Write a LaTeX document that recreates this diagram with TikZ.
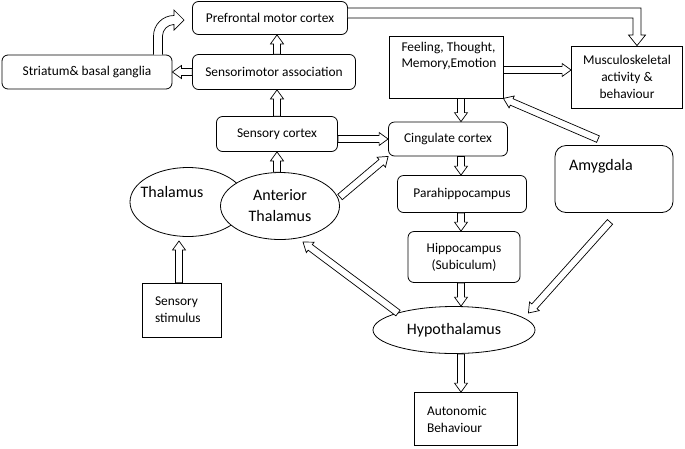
\documentclass[tikz,border=0pt]{standalone}
\usepackage{fontspec}
\setmainfont{Carlito}
\usetikzlibrary{calc,shapes.geometric}
\tikzset{
  rbox/.style={draw, thick, rounded corners=6pt, align=center, inner sep=0pt, font=\fontsize{13.4}{17}\selectfont},
  sbox/.style={draw, thick, align=left, inner sep=0pt, font=\fontsize{13.4}{17}\selectfont},
  oval/.style={draw, thick, ellipse, fill=white, align=center, inner sep=0pt, font=\fontsize{16}{21}\selectfont},
  % hollow block arrow: half shaft, half head, head length
  blk/.style n args={3}{draw, fill=white, line width=0.7pt, line join=miter, to path={
    ($(\tikztostart)!#1!90:(\tikztotarget)$)
    -- ($(\tikztotarget)!#3!(\tikztostart)!#1!-90:(\tikztostart)$)
    -- ($(\tikztotarget)!#3!(\tikztostart)!#2!-90:(\tikztostart)$)
    -- (\tikztotarget)
    -- ($(\tikztotarget)!#3!(\tikztostart)!#2!90:(\tikztostart)$)
    -- ($(\tikztotarget)!#3!(\tikztostart)!#1!90:(\tikztostart)$)
    -- ($(\tikztostart)!#1!-90:(\tikztotarget)$) -- cycle}},
  arr/.style={blk={3.5pt}{6.5pt}{9pt}},
}
\begin{document}
\begin{tikzpicture}[x=1pt, y=-1pt]
\useasboundingbox (0,0) rectangle (685,448);
% boxes
\node[rbox, minimum width=155, minimum height=33] (pfc) at (270,18) {Prefrontal motor cortex};
\node[rbox, minimum width=170, minimum height=34] (str) at (87,72) {Striatum\& basal ganglia};
\node[rbox, minimum width=163, minimum height=35] (smot) at (274,72) {Sensorimotor association};
\node[rbox, minimum width=121, minimum height=35] (sens) at (277,134) {Sensory cortex};
\node[sbox, minimum width=114, minimum height=62] (feel) at (446,67) {};
\node[align=left, anchor=north, inner sep=0pt, font=\fontsize{13.4}{16}\selectfont] (feeltxt) at ($(feel.north)+(3,6)$) {Feeling, Thought,\\Memory,Emotion};
\node[sbox, align=center, minimum width=111, minimum height=62] (musc) at (627,77) {Musculoskeletal\\activity \&\\behaviour};
\node[rbox, minimum width=119, minimum height=34] (cing) at (448,139) {Cingulate cortex};
\node[rbox, minimum width=129, minimum height=37] (para) at (462,194) {Parahippocampus};
\node[rbox, minimum width=112, minimum height=51] (hippo) at (464,257) {Hippocampus\\(Subiculum)};
\node[rbox, rounded corners=11pt, minimum width=118, minimum height=67] (amyg) at (614,179) {};
\node[anchor=west, inner sep=0pt, font=\fontsize{16}{18}\selectfont] (amygtxt) at (569,166) {Amygdala};
\node[sbox, text width=54, minimum width=79, minimum height=54] (stim) at (182,310) {Sensory\\stimulus};
\node[sbox, text width=78, minimum width=103, minimum height=53] (auto) at (466,419) {Autonomic\\Behaviour};
% ovals
\node[oval, minimum width=116, minimum height=69] (thal) at (188,202) {};
\node[inner sep=0pt, font=\fontsize{16}{18}\selectfont] (thaltxt) at (172,192) {Thalamus};
\node[oval, minimum width=119, minimum height=67] (ant) at (280,206) {Anterior\\Thalamus};
\node[oval, minimum width=162, minimum height=47] (hypo) at (454,330) {Hypothalamus};
% arrow ends
\coordinate (col) at (461,0);
\coordinate (feelR) at ($(feel.east)+(0,3)$);
\coordinate (amygtop) at ($(amyg.north)+(-16,-6)$);
\coordinate (amygbot) at ($(amyg.south)+(-4,9)$);
\coordinate (hypoR) at ($(hypo.east)+(-7,-17)$);
\coordinate (hypoL) at ($(hypo.center)+(-56,-17)$);
\coordinate (antB) at ($(ant.center)+(23,36)$);
\coordinate (antR) at ($(ant.center)+(60,-9)$);
\coordinate (thalB) at (179,241);
\coordinate (stimT) at (stim.north -| thalB);
% arrows
\draw[arr] (sens.north) to (sens.north |- smot.south);
\draw[arr] (sens.north |- smot.north) to (sens.north |- pfc.south);
\draw[arr] (smot.west) to (str.east);
\draw[arr] (sens.south |- ant.north) to (sens.south);
\draw[arr] (stimT) to (thalB);
\draw[arr] (sens.east |- cing.west) to (cing.west);
\draw[arr] (antR) to (cing.south west);
\draw[arr] (feelR) to (feelR -| musc.west);
\draw[arr] (feel.south -| col) to (cing.north -| col);
\draw[arr] (cing.south -| col) to (para.north -| col);
\draw[arr] (para.south -| col) to (hippo.north -| col);
\draw[arr] (hippo.south -| col) to (hypo.north -| col);
\draw[arr] (hypo.south -| col) to (auto.north -| col);
\draw[arr] (amygtop) to (feel.south east);
\draw[arr] (amygbot) to (hypoR);
\draw[arr] (hypoL) to (antB);
% wide elbow arrow to musculoskeletal
\draw[fill=white, line width=0.7pt] (pfc.east |- 0,8) -- (641,8) -- (641,35) -- (645.5,35) -- (musc.north -| 637,0)
  -- (628.5,35) -- (633,35) -- (633,18) -- (pfc.east |- 0,18);
% curved arrow from striatum
\draw[fill=white, line width=0.7pt] (str.north -| 153.5,0) -- (153.5,36) to[out=90, in=180] (174,15.5) -- (174,10)
  -- (184,20) -- (174,30) -- (174,24.5) to[out=180, in=90] (162.5,36) -- (str.north -| 162.5,0);
\end{tikzpicture}
\end{document}
